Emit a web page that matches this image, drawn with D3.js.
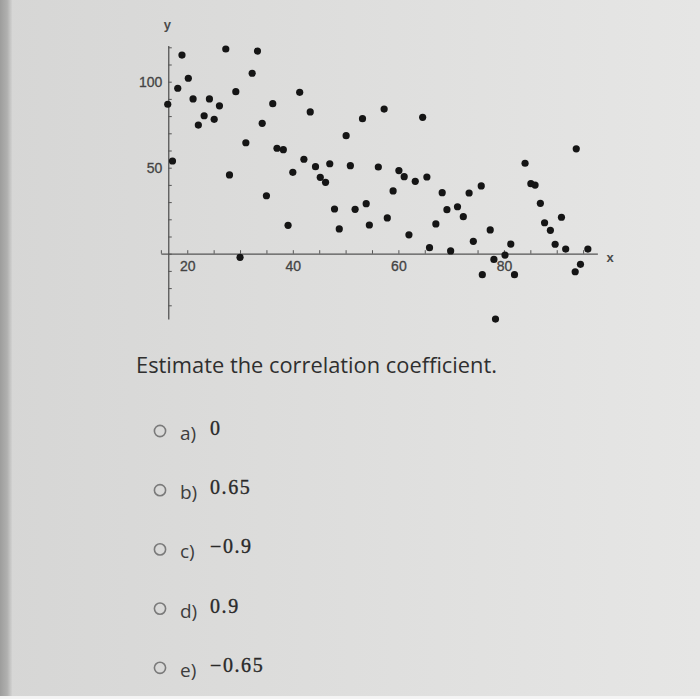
<!DOCTYPE html>
<html>
<head>
<meta charset="utf-8">
<script src="https://cdn.jsdelivr.net/npm/d3@7"></script>
<style>
  html, body { margin: 0; padding: 0; background: #dedede; }
  svg { display: block; }
</style>
</head>
<body>
<div id="chart-container"></div>
<script>
// points, x and y in data units
const xValues = [
    19.0, 27.3, 33.3, 20.2, 18.2, 16.3, 32.3, 29.2, 21.1, 24.2,
    26.1, 23.2, 25.1, 22.1, 34.2, 36.2, 41.3, 43.3, 31.1, 37.0,
    38.2, 17.2, 28.0, 35.0, 39.1, 30.0, 40.0, 42.1, 44.3, 45.2,
    46.2, 47.0, 50.1, 50.9, 47.9, 48.8, 51.8, 53.9, 53.2, 54.5,
    57.3, 64.6, 56.2, 60.1, 61.1, 63.2, 65.4, 59.0, 57.9, 62.0,
    65.9, 67.1, 68.3, 69.2, 71.2, 72.3, 69.9, 73.4, 75.7, 74.2,
    77.4, 78.1, 75.9, 78.4, 80.2, 81.3, 82.0, 84.0, 85.1, 85.9,
    86.9, 87.7, 88.8, 90.9, 89.7, 91.7, 93.7, 95.9, 94.5, 93.5
];
const yValues = [
    115.5, 119, 117.8, 102, 96.2, 86.9, 104.9, 94.2, 90, 90,
    86, 80.2, 78.1, 74.8, 75.8, 87.2, 93.8, 82.4, 64.5, 61.3,
    60.5, 53.9, 45.8, 33.7, 16.5, -2.1, 47.3, 54.9, 50.6, 44.4,
    41.5, 52.3, 68.6, 51.2, 26, 14.4, 25.8, 29.1, 78.5, 16.7,
    84.1, 79.3, 50.4, 48.3, 44.8, 42.1, 44.6, 36.5, 20.8, 11.0,
    3.5, 17.3, 35.5, 25.6, 27.3, 21.5, 1.6, 35.3, 39.4, 7.2,
    13.8, -3.3, -12.2, -38, -0.8, 5.6, -12.2, 52.6, 40.7, 39.9,
    29.3, 18.0, 13.6, 21.2, 5.5, 2.7, 61, 2.7, -6.2, -10.5
];

const xTicks = d3.range(15, 100, 5);
const xLabels = [20, 40, 60, 80];
const yTicks = d3.range(-30, 130, 10);
const yLabels = [50, 100];

const question = "Estimate the correlation coefficient.";
const optionLetters = ["a)", "b)", "c)", "d)", "e)"];
const optionValues = ["0", "0.65", "\u22120.9", "0.9", "\u22120.65"];

const width = 700;
const height = 699;

const svg = d3.select("#chart-container")
    .append("svg")
    .attr("width", width)
    .attr("height", height);

// photo background: grey page, darker strip at the left, white edge at the bottom
const defs = svg.append("defs");
const grad = defs.append("linearGradient")
    .attr("id", "bg")
    .attr("x1", 0).attr("x2", 1).attr("y1", 0).attr("y2", 0);
grad.append("stop").attr("offset", "0").attr("stop-color", "#d6d6d5");
grad.append("stop").attr("offset", "1").attr("stop-color", "#e6e6e5");
const edge = defs.append("linearGradient")
    .attr("id", "edge")
    .attr("x1", 0).attr("x2", 1).attr("y1", 0).attr("y2", 0);
edge.append("stop").attr("offset", "0").attr("stop-color", "#9d9d9c");
edge.append("stop").attr("offset", "0.6").attr("stop-color", "#b0b0af");
edge.append("stop").attr("offset", "1").attr("stop-color", "#d2d2d1");
svg.append("rect").attr("width", width).attr("height", height).attr("fill", "url(#bg)");
svg.append("rect").attr("width", 12).attr("height", height).attr("fill", "url(#edge)");
svg.append("rect").attr("y", 696).attr("width", width).attr("height", 3).attr("fill", "#f4f4f4");

// scales (100 data units ~ 528px wide, ~172px tall)
const x = d3.scaleLinear().domain([0, 100]).range([81.7, 609.5]);
const y = d3.scaleLinear().domain([0, 100]).range([253.7, 81.7]);

const xAxisScale = x.copy().domain([15, 97.7]).range([x(15), x(97.7)]);
const yAxisScale = y.copy().domain([-38, 121]).range([y(-38), y(121)]);
const yAxisAt = 16.4;

const axisColor = "#555";

const xAxis = d3.axisBottom(xAxisScale)
    .tickValues(xTicks)
    .tickFormat(d => xLabels.includes(d) ? d : "")
    .tickSizeInner(-3.5)
    .tickSizeOuter(0)
    .tickPadding(7);

const gx = svg.append("g")
    .attr("transform", `translate(0, ${y(0)})`)
    .call(xAxis);

const yAxis = d3.axisLeft(yAxisScale)
    .tickValues(yTicks)
    .tickFormat(d => yLabels.includes(d) ? d : "")
    .tickSizeInner(-3.5)
    .tickSizeOuter(0)
    .tickPadding(6);

const gy = svg.append("g")
    .attr("transform", `translate(${x(yAxisAt)}, 0)`)
    .call(yAxis);

[gx, gy].forEach(g => {
    g.select(".domain").attr("stroke", axisColor).attr("stroke-width", 1.3);
    g.selectAll(".tick line").attr("stroke", axisColor).attr("stroke-width", 1);
    g.selectAll(".tick text")
        .attr("fill", "#444")
        .attr("stroke", "#444")
        .attr("stroke-width", 0.3)
        .style("font-family", "'Liberation Sans', Arial, sans-serif")
        .style("font-size", "14px");
});

// axis names
svg.append("text")
    .text("y")
    .attr("x", x(yAxisAt) - 1)
    .attr("y", 29)
    .attr("text-anchor", "middle")
    .attr("fill", "#4a4a4a")
    .style("font-family", "'Liberation Sans', Arial, sans-serif")
    .style("font-size", "13px")
    .style("font-weight", "bold");

svg.append("text")
    .text("x")
    .attr("x", 610)
    .attr("y", 262)
    .attr("text-anchor", "middle")
    .attr("fill", "#4a4a4a")
    .style("font-family", "'Liberation Sans', Arial, sans-serif")
    .style("font-size", "13px")
    .style("font-weight", "bold");

// dots
svg.append("g")
    .selectAll("circle")
    .data(d3.range(xValues.length))
    .enter()
    .append("circle")
    .attr("cx", i => x(xValues[i]))
    .attr("cy", i => y(yValues[i]))
    .attr("r", 3.6)
    .attr("fill", "#151515");

// question text
svg.append("text")
    .text(question)
    .attr("x", 136)
    .attr("y", 373)
    .attr("textLength", 361)
    .attr("lengthAdjust", "spacingAndGlyphs")
    .attr("fill", "#2f2f2f")
    .style("font-family", "'Open Sans', sans-serif")
    .style("font-size", "22px");

// answer options
const rowY = i => 431 + i * 59.2;

const options = svg.selectAll(".option")
    .data(optionLetters)
    .enter()
    .append("g")
    .attr("class", "option")
    .attr("transform", (d, i) => `translate(0, ${rowY(i)})`);

options.append("circle")
    .attr("cx", 160)
    .attr("cy", 0)
    .attr("r", 5.6)
    .attr("fill", "none")
    .attr("stroke", "#7a7a7a")
    .attr("stroke-width", 1.6);

options.append("text")
    .text(d => d)
    .attr("x", 180)
    .attr("y", 9)
    .attr("fill", "#3d3d3d")
    .style("font-family", "'Open Sans', sans-serif")
    .style("font-size", "19px");

options.append("text")
    .text((d, i) => optionValues[i])
    .attr("x", 210)
    .attr("y", 4)
    .attr("fill", "#2a2a2a")
    .attr("stroke", "#2a2a2a")
    .attr("stroke-width", 0.35)
    .style("font-family", "'Liberation Serif', 'Times New Roman', serif")
    .style("font-size", "20px")
    .style("letter-spacing", "1.6px");
</script>
</body>
</html>
